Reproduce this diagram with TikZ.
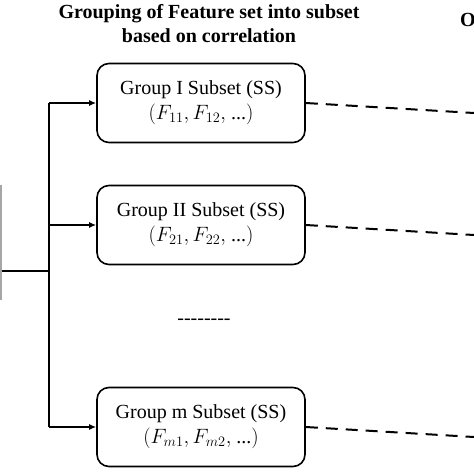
\documentclass[tikz,border=0pt]{standalone}
\usepackage{fontspec}
\setmainfont{Liberation Serif}
\usetikzlibrary{arrows.meta}
\begin{document}
\begin{tikzpicture}[x=1pt,y=-1pt,
  grp/.style={draw, line width=1.6pt, rounded corners=12pt, minimum width=208pt, minimum height=79pt, align=center, font=\fontsize{20}{25}\selectfont, inner sep=0pt},
  title/.style={align=center, font=\fontsize{20}{24}\selectfont\bfseries},
  conn/.style={line width=1.4pt, -{Latex[length=7pt,width=6pt]}},
  dsh/.style={line width=2pt, dash pattern=on 12pt off 8pt}]
\useasboundingbox (0,0) rectangle (474,474);
\node[title] (t) at (209,24) {Grouping of Feature set into subset\\based on correlation};
\node[font=\fontsize{20}{24}\selectfont\bfseries, anchor=west, inner sep=0pt] (o) at (460,20) {O};
\node[grp] (g1) at (201,103) {Group I Subset (SS)\\$(F_{11},F_{12},$ ...$)$};
\node[grp] (g2) at (201,225) {Group II Subset (SS)\\$(F_{21},F_{22},$ ...$)$};
\node[grp] (g3) at (201,427) {Group m Subset (SS)\\$(F_{m1},F_{m2},$ ...$)$};
\node[font=\fontsize{20}{24}\selectfont] (dots) at (204,322) {-{}-{}-{}-{}-{}-{}-{}-};
\coordinate (top) at (49,103);
\coordinate (bot) at (49,427);
\coordinate (mid) at (49,271);
\coordinate (lft) at (0,271);
\coordinate (e1) at (474,113);
\coordinate (e2) at (474,235);
\coordinate (e3) at (474,437);
\draw[line width=1.4pt] (top) -- (bot);
\draw[line width=1.4pt] (lft) -- (mid);
\draw[conn] (top) -- (g1.west);
\draw[conn] (49,225) -- (g2.west);
\draw[conn] (bot) -- (g3.west);
\draw[dsh] (g1.east) -- (e1);
\draw[dsh] (g2.east) -- (e2);
\draw[dsh] (g3.east) -- (e3);
\draw[gray!70, line width=3pt] (0.5,185) -- (0.5,300);
\end{tikzpicture}
\end{document}
